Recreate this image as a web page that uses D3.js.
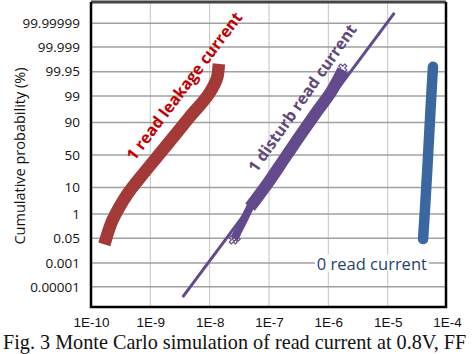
<!DOCTYPE html>
<html><head><meta charset="utf-8">
<script src="https://cdn.jsdelivr.net/npm/d3@7"></script>
<style>body{margin:0;background:#fff;} svg{display:block}</style>
</head><body><svg id="c" width="474" height="354"></svg>
<script>
// ---- data ----
const xTicks = [1e-10, 1e-9, 1e-8, 1e-7, 1e-6, 1e-5, 1e-4];
const xTickLabels = ["1E-10", "1E-9", "1E-8", "1E-7", "1E-6", "1E-5", "1E-4"];
const yTicks = [0.00001, 0.001, 0.05, 1, 10, 50, 90, 99, 99.95, 99.999, 99.99999];
const yTickLabels = ["0.00001", "0.001", "0.05", "1", "10", "50", "90", "99", "99.95", "99.999", "99.99999"];

// 1 read leakage current (A) vs cumulative probability (%)
const leakCurrent = [1.8e-10, 2.3e-10, 3.0e-10, 4.3e-10, 8e-10, 1.7e-9, 4.5e-9, 1.0e-8, 1.35e-8, 1.4e-8];
const leakProb    = [0.05, 0.5, 2, 7, 25, 60, 93, 99.3, 99.9, 99.96];

// 1 disturb read current – simulated band
const disturbLowCurrent = [2.6e-8, 3.6e-8, 5.2e-8];
const disturbLowProb    = [0.05, 0.4, 3];
const disturbCurrent = [4.8e-8, 9.6e-8, 2.0e-7, 3.9e-7, 6.7e-7, 1.11e-6, 1.77e-6];
const disturbProb    = [2, 13.5, 50, 84, 96.2, 99.36, 99.96];
// fitted log-normal line
const fitCurrent = [3.5e-9, 1.3e-5];
const fitProb    = [0.000001, 99.999999];
// end markers
const markCurrent = [2.5e-8, 2.8e-8, 1.75e-6];
const markProb    = [0.04, 0.06, 99.97];

// 0 read current
const zeroCurrent = [3.95e-5, 4.35e-5, 4.8e-5, 5.27e-5, 5.8e-5];
const zeroProb    = [0.045, 3.8, 50, 96.2, 99.975];

// ---- helpers ----
function probit(p) { // inverse normal CDF (Acklam)
  const a=[-3.969683028665376e+01,2.209460984245205e+02,-2.759285104469687e+02,1.383577518672690e+02,-3.066479806614716e+01,2.506628277459239e+00];
  const b=[-5.447609879822406e+01,1.615858368580409e+02,-1.556989798598866e+02,6.680131188771972e+01,-1.328068155288572e+01];
  const c=[-7.784894002430293e-03,-3.223964580411365e-01,-2.400758277161838e+00,-2.549732539343734e+00,4.374664141464968e+00,2.938163982698783e+00];
  const d=[7.784695709041462e-03,3.224671290700398e-01,2.445134137142996e+00,3.754408661907416e+00];
  const pl=0.02425, ph=1-pl; let q,r;
  if (p<pl){ q=Math.sqrt(-2*Math.log(p)); return (((((c[0]*q+c[1])*q+c[2])*q+c[3])*q+c[4])*q+c[5])/((((d[0]*q+d[1])*q+d[2])*q+d[3])*q+1); }
  if (p<=ph){ q=p-0.5; r=q*q; return (((((a[0]*r+a[1])*r+a[2])*r+a[3])*r+a[4])*r+a[5])*q/(((((b[0]*r+b[1])*r+b[2])*r+b[3])*r+b[4])*r+1); }
  q=Math.sqrt(-2*Math.log(1-p)); return -(((((c[0]*q+c[1])*q+c[2])*q+c[3])*q+c[4])*q+c[5])/((((d[0]*q+d[1])*q+d[2])*q+d[3])*q+1);
}
const z = pct => probit(pct/100);

const svg = d3.select("#c");
const L = 91, R = 446, T = 2, B = 307;
const x = d3.scaleLog().domain([1e-10, 1e-4]).range([L, R+1]);
const y = d3.scaleLinear().domain([-6, 6]).range([B, T+1]);
const yp = pct => y(z(pct));

// gridlines
svg.append("g").selectAll("line").data(xTicks.slice(1, -1)).join("line")
  .attr("x1", d => x(d)).attr("x2", d => x(d)).attr("y1", T).attr("y2", B)
  .attr("stroke", "#c4c4c4").attr("stroke-width", 1);
svg.append("g").selectAll("line").data(yTicks).join("line")
  .attr("x1", L).attr("x2", R).attr("y1", d => yp(d)).attr("y2", d => yp(d))
  .attr("stroke", "#a0a0a0").attr("stroke-width", 1.5);

// axes (labels only)
const xAxis = svg.append("g").attr("transform", `translate(0,${B})`)
  .call(d3.axisBottom(x).tickValues(xTicks).tickFormat((d, i) => xTickLabels[i]).tickSize(0).tickPadding(10));
xAxis.select(".domain").remove();
xAxis.selectAll("text").attr("font-family", "Liberation Sans, Arial, sans-serif").attr("font-size", 13.5).attr("fill", "#111");

const yAxis = svg.append("g").attr("transform", `translate(${L},0)`)
  .call(d3.axisLeft(y).tickValues(yTicks.map(z)).tickFormat((d, i) => yTickLabels[i]).tickSize(0).tickPadding(11));
yAxis.select(".domain").remove();
yAxis.selectAll("text").attr("font-family", "Open Sans, sans-serif").attr("font-size", 13.5).attr("fill", "#111");

// y title
svg.append("text").attr("transform", `translate(25,156) rotate(-90)`)
  .attr("text-anchor", "middle").attr("font-family", "Open Sans, sans-serif").attr("font-size", 14.5)
  .attr("fill", "#111").text("Cumulative probability (%)");

// series
const line = d3.line().x(d => x(d[0])).y(d => yp(d[1])).curve(d3.curveMonotoneY);
const zip = (a, b) => a.map((v, i) => [v, b[i]]);

svg.append("path").datum(zip(leakCurrent, leakProb)).attr("d", line)
  .attr("fill", "none").attr("stroke", "#a33a37").attr("stroke-width", 12.5).attr("stroke-linecap", "square").attr("stroke-linejoin", "round");

svg.append("path").datum(zip(fitCurrent, fitProb)).attr("d", d3.line().x(d => x(d[0])).y(d => yp(d[1])))
  .attr("fill", "none").attr("stroke", "#634a8c").attr("stroke-width", 3);
svg.append("path").datum(zip(disturbLowCurrent, disturbLowProb)).attr("d", line)
  .attr("fill", "none").attr("stroke", "#634a8c").attr("stroke-width", 8).attr("stroke-linecap", "butt");
svg.append("path").datum(zip(disturbCurrent, disturbProb)).attr("d", line)
  .attr("fill", "none").attr("stroke", "#634a8c").attr("stroke-width", 12).attr("stroke-linecap", "butt").attr("stroke-linejoin", "round");
svg.append("g").selectAll("path").data(zip(markCurrent, markProb)).join("path")
  .attr("d", d3.symbol(d3.symbolCross, 40))
  .attr("transform", d => `translate(${x(d[0])},${yp(d[1])}) rotate(45)`)
  .attr("fill", "none").attr("stroke", "#634a8c").attr("stroke-width", 1.2);

svg.append("path").datum(zip(zeroCurrent, zeroProb)).attr("d", line)
  .attr("fill", "none").attr("stroke", "#3b67a0").attr("stroke-width", 10.5).attr("stroke-linecap", "round");

// labels
svg.append("text").attr("transform", `translate(${x(3.7e-9)},${yp(99.68)}) rotate(-53)`)
  .attr("text-anchor", "middle").attr("dominant-baseline", "central")
  .attr("font-family", "Open Sans, sans-serif").attr("font-weight", "bold").attr("font-size", 16)
  .attr("fill", "#c00000").text("1 read leakage current");
svg.append("text").attr("transform", `translate(${x(3.6e-7)},${yp(98.78)}) rotate(-55)`)
  .attr("text-anchor", "middle").attr("dominant-baseline", "central")
  .attr("font-family", "Open Sans, sans-serif").attr("font-weight", "bold").attr("font-size", 16)
  .attr("fill", "#5f497a").text("1 disturb read current");
const zl = svg.append("g").attr("transform", `translate(${x(6.4e-7)},${yp(0.001)})`);
const zt = zl.append("text").attr("dominant-baseline", "central")
  .attr("font-family", "Open Sans, sans-serif").attr("font-size", 16.5)
  .attr("fill", "#1f3f6e").text("0 read current");
const bb = zt.node().getBBox();
zl.insert("rect", "text").attr("x", bb.x - 2).attr("y", bb.y + 3).attr("width", bb.width + 4).attr("height", bb.height - 6).attr("fill", "#fff");

// frame
svg.append("line").attr("x1", L).attr("x2", R).attr("y1", T).attr("y2", T).attr("stroke", "#444").attr("stroke-width", 3);
svg.append("path").attr("d", `M${L},${T}V${B}H${R}V${T}`).attr("fill", "none").attr("stroke", "#000").attr("stroke-width", 2.5);

// caption
svg.append("text").attr("x", 3).attr("y", 349).attr("font-family", "Liberation Serif, Times New Roman, serif")
  .attr("font-size", 20.2).attr("fill", "#111").text("Fig. 3 Monte Carlo simulation of read current at 0.8V, FF");
</script></body></html>
